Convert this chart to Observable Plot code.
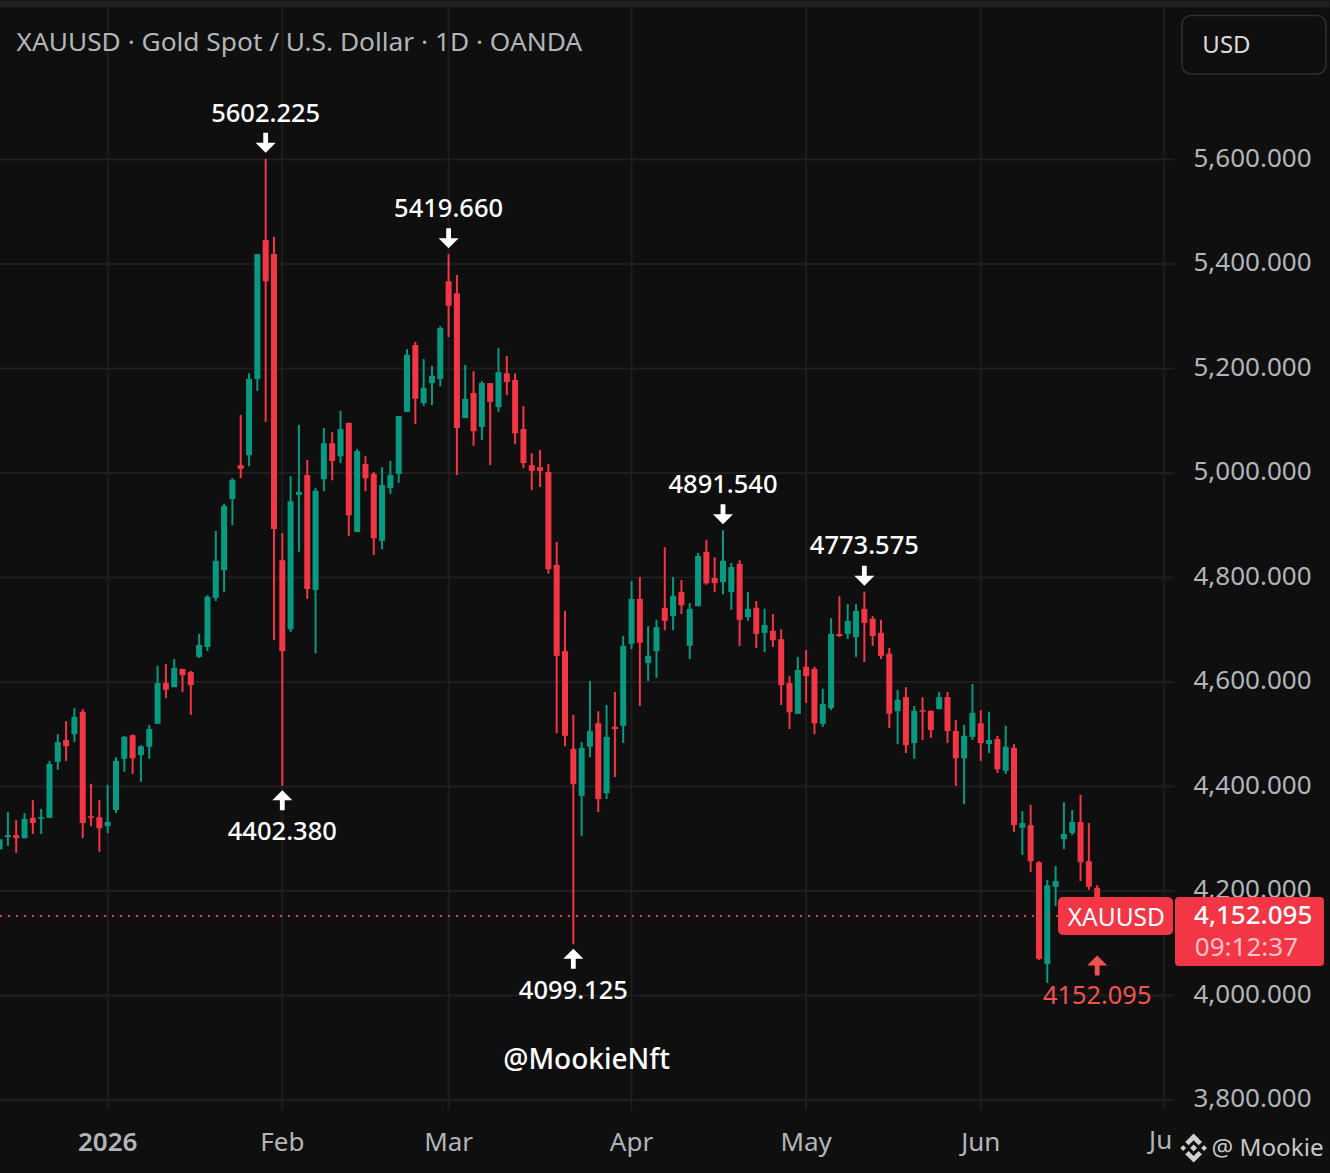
<!DOCTYPE html>
<html>
<head>
<meta charset="utf-8">
<script src="https://cdn.jsdelivr.net/npm/d3@7"></script>
<script src="https://cdn.jsdelivr.net/npm/@observablehq/plot@0.6"></script>
<style>
html,body{margin:0;padding:0;background:#0f0f0f}
svg{display:block}
</style>
</head>
<body>
<div id="chart"></div>
<script>
const firstSession = -13;
const opens = [4281,4304,4308,4302,4341,4339,4341,4448,4490,4501,4544,4344,4342,4325,4356,4454,4499,4461,4477,4521,4599,4591,4626,4620,4649,4668,4762,4815,4951,5016,5035,5181,5447,5420,4834,4702,4959,4997,4777,4989,5058,5033,5097,4888,5018,4999,4871,4972,4999,5118,5246,5135,5173,5181,5368,5345,5106,5154,5089,5173,5127,5192,5179,5085,5016,5012,5003,4825,4660,4473,4383,4477,4522,4388,4515,4517,4674,4760,4637,4660,4743,4727,4773,4670,4746,4850,4800,4792,4773,4827,4725,4743,4695,4699,4683,4599,4540,4630,4626,4521,4551,4693,4693,4687,4741,4722,4695,4655,4545,4572,4484,4547,4546,4549,4572,4507,4455,4496,4522,4482,4492,4431,4475,4322,4327,4256,4061,4209,4300,4312,4333,4258,4207];
const highs = [4300,4352,4337,4350,4375,4358,4450,4501,4526,4551,4549,4406,4375,4404,4457,4498,4501,4480,4519,4632,4635,4645,4626,4622,4693,4767,4890,4942,4991,5112,5192,5420,5602.225,5453,4886,4995,5093,5026,4972,5087,5079,5120,5097,5047,5033,5003,5012,5024,5110,5238,5252,5219,5206,5282,5419.66,5380,5208,5196,5177,5173,5240,5225,5192,5129,5039,5045,5018,4869,4737,4538,4486,4603,4545,4557,4582,4689,4794,4802,4708,4720,4859,4802,4796,4752,4848,4873,4840,4891.54,4829,4834,4773,4756,4741,4731,4702,4612,4649,4662,4630,4588,4723,4765,4750,4750,4773.575,4727,4720,4666,4586,4591,4555,4572,4546,4582,4582,4528,4519,4597,4547,4544,4498,4517,4482,4354,4366,4258,4222,4249,4371,4356,4385,4331,4212];
const lows = [4280,4287,4274,4302,4310,4310,4341,4433,4450,4486,4302,4325,4276,4312,4350,4429,4425,4410,4454,4521,4570,4591,4582,4538,4647,4660,4756,4773,4901,4991,5014,5158,5099,4681,4402.38,4697,4850,4760,4656,4966,4987,5020,4880,4888,4966,4844,4855,4961,4982,5118,5095,5129,5131,5167,5261,4997,5106,5053,5064,5016,5118,5150,5056,5010,4968,4974,4808,4503,4478,4099.125,4306,4457,4352,4377,4419,4484,4664,4555,4603,4609,4700,4700,4731,4645,4746,4787,4773,4769,4739,4670,4718,4666,4658,4668,4557,4511,4540,4561,4501,4515,4547,4687,4683,4649,4639,4670,4645,4513,4482,4465,4454,4490,4494,4549,4484,4402,4367,4490,4450,4465,4427,4425,4314,4270,4237,4069,4025,4172,4281,4308,4220,4203,4140];
const closes = [4300,4308,4302,4339,4331,4342,4444,4486,4478,4534,4331,4341,4321,4333,4450,4496,4455,4478,4511,4599,4586,4628,4614,4595,4672,4764,4833,4938,4988,5009,5181,5420,5368,4894,4660,4947,4965,4779,4967,5058,5024,5085,4920,5043,4991,4876,4978,4997,5110,5227,5143,5164,5187,5278,5321,5087,5143,5081,5173,5137,5194,5175,5077,5020,5005,5005,4817,4651,4498,4406,4475,4507,4377,4496,4511,4670,4760,4676,4651,4706,4718,4766,4748,4741,4842,4790,4790,4833,4821,4720,4741,4693,4710,4681,4595,4543,4624,4612,4522,4559,4693,4689,4718,4737,4714,4689,4651,4540,4567,4480,4546,4544,4509,4572,4507,4455,4498,4542,4484,4490,4434,4477,4327,4331,4258,4071,4212,4220,4310,4333,4256,4209,4152.095];

const monthTicks = [21,41,63,84,105];
const monthNames = ["Feb","Mar","Apr","May","Jun"];
const yearTicks = [0];
const yearNames = ["2026"];
const clippedTick = [127];
const clippedName = "Ju";
const priceTicks = [3800,4000,4200,4400,4600,4800,5000,5200,5400,5600];

const highNotes = [{k:19,v:5602.225,label:"5602.225"},{k:41,v:5419.66,label:"5419.660"},{k:74,v:4891.54,label:"4891.540"},{k:91,v:4773.575,label:"4773.575"}];
const lowNotes = [{k:21,v:4402.38,label:"4402.380"},{k:56,v:4099.125,label:"4099.125"}];
const lastNote = {k:119,v:4152.095,label:"4152.095"};

const titleText = "XAUUSD · Gold Spot / U.S. Dollar · 1D · OANDA";
const FONT = "Noto Sans";
const GREEN = "#089981", RED = "#f23645", GRID = "#1e1e1e", BG = "#0f0f0f", AXIS = "#b2b5b8";
const BODY_W = 6, WICK_W = 2;

const candles = opens.map((o,i)=>({k:firstSession+i,o,h:highs[i],l:lows[i],c:closes[i]}));
const colour = d => d.c >= d.o ? GREEN : RED;

const arrow = dir => ({draw(ctx,size){
  const r = Math.sqrt(size/Math.PI), s = dir*r;
  ctx.moveTo(-r*0.24,-s); ctx.lineTo(r*0.24,-s); ctx.lineTo(r*0.24,0); ctx.lineTo(r,0);
  ctx.lineTo(0,s); ctx.lineTo(-r,0); ctx.lineTo(-r*0.24,0); ctx.closePath();
}});
const diamond = (ctx,cx,cy,r)=>{ctx.moveTo(cx,cy-r);ctx.lineTo(cx+r,cy);ctx.lineTo(cx,cy+r);ctx.lineTo(cx-r,cy);ctx.closePath();};
const logo = {draw(ctx,size){
  const r = Math.sqrt(size/Math.PI);
  diamond(ctx,0,0,r*.24); diamond(ctx,-r*.72,0,r*.2); diamond(ctx,r*.72,0,r*.2);
  for(const s of [-1,1]){
    ctx.moveTo(0,s*r); ctx.lineTo(r*.58,s*r*.42); ctx.lineTo(r*.34,s*r*.2);
    ctx.lineTo(0,s*r*.54); ctx.lineTo(-r*.34,s*r*.2); ctx.lineTo(-r*.58,s*r*.42); ctx.closePath();
  }
}};

const chart = Plot.plot({
  width:1330, height:1173,
  marginLeft:0, marginRight:156, marginTop:8, marginBottom:63,
  style:{background:BG, fontFamily:FONT, overflow:"visible"},
  x:{type:"linear", domain:[-12.89,128.3], axis:null},
  y:{type:"linear", domain:[3779.9,5889], axis:null},
  marks:[
    Plot.ruleY([5897.5],{x1:-13,x2:147,stroke:"#202020",strokeWidth:7}),
    Plot.ruleY(priceTicks,{stroke:GRID,strokeWidth:2}),
    Plot.ruleX([...yearTicks,...monthTicks,...clippedTick],{stroke:GRID,strokeWidth:2}),
    Plot.axisY({anchor:"right",ticks:priceTicks,tickSize:0,tickPadding:19,label:null,dy:-1,
      tickFormat:d3.format(",.3f"),fontSize:26,color:AXIS}),
    Plot.axisX({anchor:"bottom",ticks:monthTicks,tickSize:0,tickPadding:22,label:null,
      tickFormat:d=>monthNames[monthTicks.indexOf(d)],fontSize:26,color:AXIS}),
    Plot.axisX({anchor:"bottom",ticks:yearTicks,tickSize:0,tickPadding:22,label:null,
      tickFormat:d=>yearNames[yearTicks.indexOf(d)],fontSize:26,fontWeight:600,color:AXIS}),
    Plot.text(clippedTick,{x:d=>d,frameAnchor:"bottom",dy:38,dx:-3,text:()=>clippedName,fontSize:26,fill:AXIS}),
    Plot.ruleX(candles,{x:"k",y1:"l",y2:"h",dy:1,stroke:colour,strokeWidth:WICK_W}),
    Plot.ruleX(candles,{x:"k",y1:"o",y2:"c",dy:1,stroke:colour,strokeWidth:BODY_W}),
    Plot.ruleY([lastNote.v],{stroke:RED,strokeWidth:2,strokeDasharray:"2,6"}),
    Plot.dot(highNotes,{x:"k",y:"v",r:10,dy:-15.5,fill:"#fff",stroke:null,symbol:arrow(1)}),
    Plot.text(highNotes,{x:"k",y:"v",text:"label",dy:-45,fill:"#fff",fontSize:25.5,fontWeight:500}),
    Plot.dot(lowNotes,{x:"k",y:"v",r:10,dy:15,fill:"#fff",stroke:null,symbol:arrow(-1)}),
    Plot.text(lowNotes,{x:"k",y:"v",text:"label",dy:47,fill:"#fff",fontSize:25.5,fontWeight:500}),
    Plot.dot([lastNote],{x:"k",y:"v",r:10,dy:49.5,fill:"#ef5350",stroke:null,symbol:arrow(-1)}),
    Plot.text([lastNote],{x:"k",y:"v",text:"label",dy:80,fill:"#ef5350",fontSize:25.4}),
    Plot.rect([0],{x1:114.35,x2:128.18,y1:4114.8,y2:4187.6,fill:RED,rx:5}),
    Plot.rect([0],{x1:128.42,x2:146.34,y1:4055.5,y2:4187.6,fill:RED,rx:4}),
    Plot.text(["XAUUSD"],{x:121.3,y:4152,text:d=>d,dy:2,fill:"#fff",fontSize:24.5}),
    Plot.text(["4,152.095"],{x:137.76,y:4152,text:d=>d,dy:0,fill:"#fff",fontSize:26,fontWeight:500}),
    Plot.text(["09:12:37"],{x:136.95,y:4152,text:d=>d,dy:32,fill:"#fbc3c9",fontSize:26}),
    Plot.text([titleText],{frameAnchor:"top-left",dx:16,dy:24,text:d=>d,fill:AXIS,fontSize:26.3,textAnchor:"start"}),
    Plot.rect([0],{x1:129.26,x2:146.58,y1:5762.7,y2:5874.7,fill:"none",stroke:"#2e2e2e",strokeWidth:1.5,rx:9}),
    Plot.text(["USD"],{x:131.65,y:5818,text:d=>d,textAnchor:"start",fill:"#dbdbdb",fontSize:24}),
    Plot.text(["@MookieNft"],{x:57.6,y:3876,text:d=>d,fill:"#fff",fontSize:28,fontWeight:500}),
    Plot.dot([0],{x:130.6,y:3708,r:14.5,fill:"#d0d0d0",stroke:null,symbol:logo}),
    Plot.text(["@ Mookie"],{x:132.75,y:3708,text:d=>d,textAnchor:"start",fill:"#c8c8c8",fontSize:24.2})
  ]
});
document.getElementById("chart").append(chart);
</script>
</body>
</html>
